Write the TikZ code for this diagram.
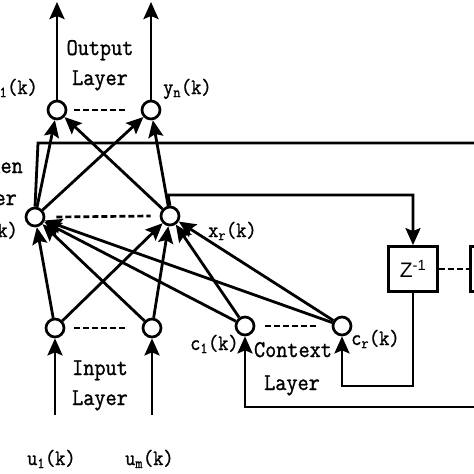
\documentclass[tikz,border=0pt]{standalone}
\usepackage{fontspec}
\setmainfont{Latin Modern Mono}[FakeStretch=0.9,FakeBold=1.2]
\newfontfamily\zfont{Liberation Sans}
\usetikzlibrary{arrows.meta}
\begin{document}
\begin{tikzpicture}[x=1pt,y=-1pt,
  neuron/.style={circle,draw,line width=2.7pt,minimum size=18pt,inner sep=0pt},
  conn/.style={line width=2.8pt},
  arr/.style={conn,-{Stealth[length=17pt,width=15pt,inset=3pt]}},
  dots/.style={line width=2.7pt,dash pattern=on 6pt off 3pt},
  txt/.style={font=\fontsize{24}{27}\selectfont,inner sep=0pt},
  lbl/.style={font=\fontsize{22}{25}\selectfont,inner sep=0pt},
  zbox/.style={draw,line width=2.8pt,minimum width=49pt,minimum height=45pt,inner sep=0pt,font=\zfont\fontsize{21}{24}\selectfont}]
\useasboundingbox (0,0) rectangle (474,474);
\clip (0,0) rectangle (474,474);
% neurons
\node[neuron] (O1) at (57,110) {};
\node[neuron] (On) at (151,110) {};
\node[neuron] (H1) at (35,217) {};
\node[neuron] (Hr) at (170,216) {};
\node[neuron] (I1) at (55,328) {};
\node[neuron] (Im) at (152,328) {};
\node[neuron] (C1) at (245,326) {};
\node[neuron] (Cr) at (342,326) {};
\node[zbox] (Z1) at (413,269) {Z\textsuperscript{-1}};
\node[zbox,anchor=west] (Z2) at (469,269) {};
% helper coordinates
\coordinate (o1top) at (57,2);
\coordinate (ontop) at (151,2);
\coordinate (tl) at (38,143);
\coordinate (hr1) at (168,195);
\coordinate (bl) at (0,407);
\coordinate (u1s) at (55,415);
\coordinate (ums) at (152,415);
% output arrows
\draw[arr] (O1) -- (o1top);
\draw[arr] (On) -- (ontop);
% hidden to output
\draw[arr] (H1) -- (O1);
\draw[arr] (H1) -- (On);
\draw[arr] (Hr) -- (O1);
\draw[arr] (Hr) -- (On);
% feedback lines
\draw[arr] (H1.north) -- (tl) -- (tl -| Z2.north) -- (Z2.north);
\draw[arr] (Hr.north) -- (hr1) -- (hr1 -| Z1.north) -- (Z1.north);
\draw[arr] (Z1.south) -- ++(0,93) -| (Cr.south);
\draw[arr] (Z2.south) -- (Z2.south |- bl) -| (C1.south);
\draw[dots] (Z1.east) -- (Z2.west);
% inputs
\draw[arr] (u1s) -- (I1.south);
\draw[arr] (ums) -- (Im.south);
% to hidden
\draw[arr] (I1) -- (H1);
\draw[arr] (I1) -- (Hr);
\draw[arr] (Im) -- (H1);
\draw[arr] (Im) -- (Hr);
\draw[arr] (C1) -- (H1);
\draw[arr] (C1) -- (Hr);
\draw[arr] (Cr) -- (H1);
\draw[arr] (Cr) -- (Hr);
% dashed layer lines
\draw[dots] ([xshift=7pt]O1.east) -- ([xshift=-14pt]On.west);
\draw[dots] ([xshift=11pt]H1.east) -- ([xshift=-9pt]Hr.west);
\draw[dots] ([xshift=9pt]I1.east) -- ([xshift=-15pt]Im.west);
\draw[dots] ([xshift=10pt]C1.east) -- ([xshift=-13pt]Cr.west);
% layer texts
\node[txt,anchor=base] (t1) at (100,55) {Output};
\node[txt,anchor=base] (t2) at (100,85) {Layer};
\node[txt,anchor=base east] (t3) at (23,173) {Hidden};
\node[txt,anchor=base east] (t4) at (17,205) {Layer};
\node[txt,anchor=base] (t5) at (100,375) {Input};
\node[txt,anchor=base] (t6) at (100,405) {Layer};
\node[txt,anchor=base] (t7) at (293,357) {Context};
\node[txt,anchor=base] (t8) at (292,390) {Layer};
% signal labels
\node[lbl,anchor=base east] (ly1) at (38,94) {y\textsubscript{1}(k)};
\node[lbl,anchor=base west] (lyn) at (163,94) {y\textsubscript{n}(k)};
\node[lbl,anchor=base east] (lx1) at (18,237) {x\textsubscript{1}(k)};
\node[lbl,anchor=base west] (lxr) at (208,237) {x\textsubscript{r}(k)};
\node[lbl,anchor=base west] (lc1) at (190,350) {c\textsubscript{1}(k)};
\node[lbl,anchor=base west] (lcr) at (351,345) {c\textsubscript{r}(k)};
\node[lbl,anchor=base west] (lu1) at (27,465) {u\textsubscript{1}(k)};
\node[lbl,anchor=base west] (lum) at (125,465) {u\textsubscript{m}(k)};
\end{tikzpicture}
\end{document}
